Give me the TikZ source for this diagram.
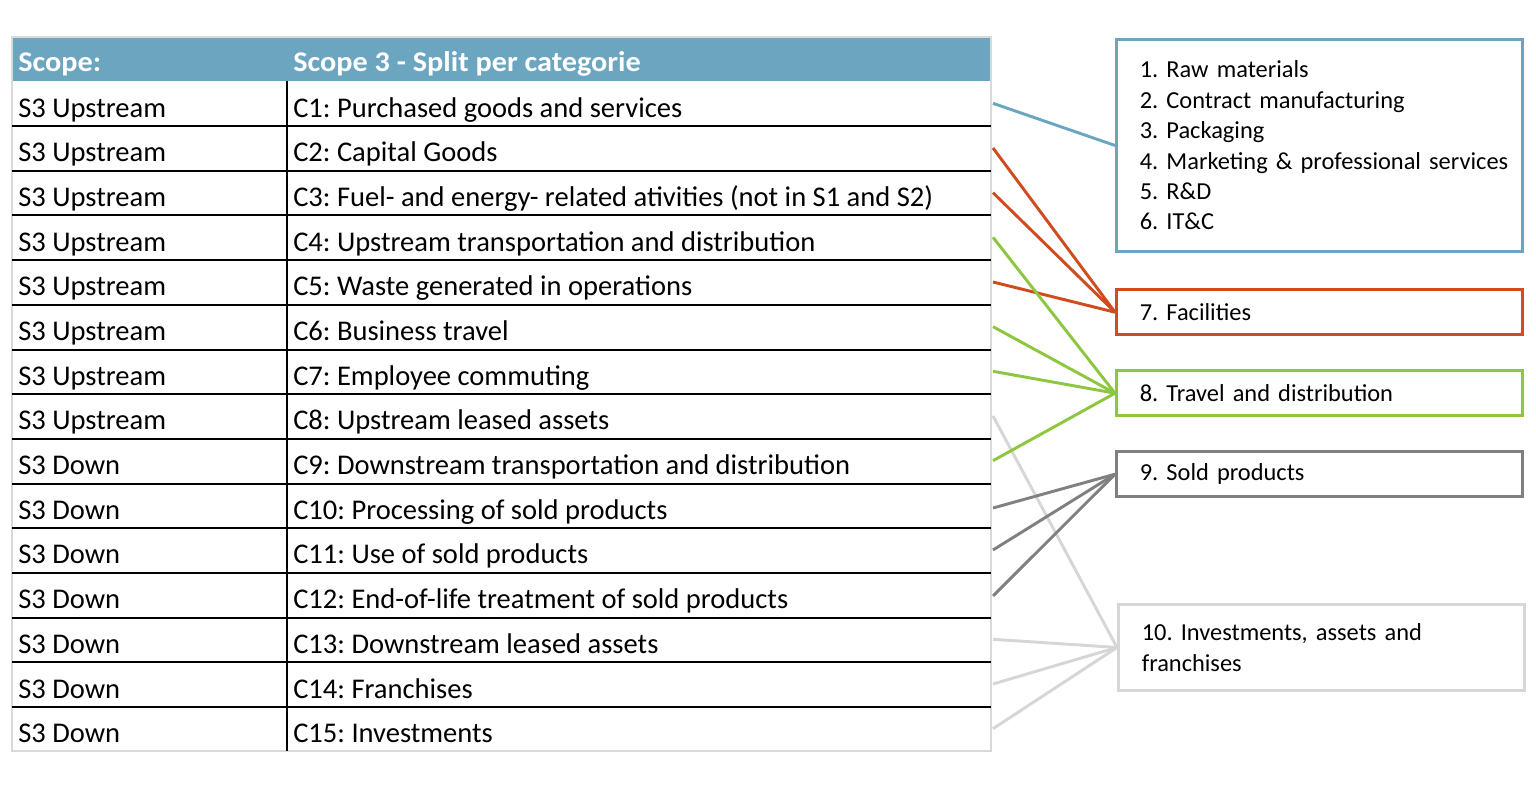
\documentclass[tikz,border=0pt]{standalone}
\usepackage{fontspec}
\setmainfont{Carlito}
\newfontfamily\headfont{Carlito}[FakeStretch=1.06]
\usepackage{xcolor}
\usepackage{tikz}
\frenchspacing
\hfuzz=30pt

\definecolor{scopeblue}{RGB}{107,165,192}
\definecolor{facorange}{RGB}{208,76,30}
\definecolor{travgreen}{RGB}{141,198,63}
\definecolor{soldgray}{RGB}{128,128,128}
\definecolor{invgray}{RGB}{214,214,214}
\definecolor{gridgray}{RGB}{217,217,217}

\tikzset{
  cell/.style={anchor=base west, inner sep=0pt, font=\fontsize{21.4}{25}\selectfont},
  headcell/.style={cell, text=white, font=\fontsize{21.4}{25}\selectfont\headfont\bfseries},
  catbox/.style={draw, line width=2.2pt, anchor=north west, inner xsep=17.5pt, inner ysep=0pt,
    minimum width=304.5pt, text width=269.5pt, align=left,
    font=\fontsize{18.3}{22.8}\selectfont},
  link/.style={line width=2.2pt},
  rowline/.style={line width=1.6pt, black}
}

\begin{document}
\begin{tikzpicture}[x=0.75pt,y=0.75pt,yscale=-1,xscale=1]

\useasboundingbox (0,0) rectangle (1536,787);

% table frame
\fill[scopeblue] (12,37) rectangle (991,81);
\draw[gridgray, line width=1.2pt] (12,37) -- (12,751) -- (991,751) -- (991,37) -- cycle;
\draw[rowline] (287,81) -- (287,751);
\draw[rowline] (12,126) -- (991,126);
\draw[rowline] (12,171) -- (991,171);
\draw[rowline] (12,215) -- (991,215);
\draw[rowline] (12,260) -- (991,260);
\draw[rowline] (12,305) -- (991,305);
\draw[rowline] (12,350) -- (991,350);
\draw[rowline] (12,394) -- (991,394);
\draw[rowline] (12,439) -- (991,439);
\draw[rowline] (12,484) -- (991,484);
\draw[rowline] (12,528) -- (991,528);
\draw[rowline] (12,573) -- (991,573);
\draw[rowline] (12,618) -- (991,618);
\draw[rowline] (12,662) -- (991,662);
\draw[rowline] (12,707) -- (991,707);

% header
\node[headcell] (hscope) at (18,72) {Scope:};
\node[headcell] (hcat) at (293,72) {Scope 3 - Split per categorie};

% scope column
\node[cell] (s1) at (18,117.3) {S3 Upstream};
\node[cell] (s2) at (18,162.0) {S3 Upstream};
\node[cell] (s3) at (18,206.7) {S3 Upstream};
\node[cell] (s4) at (18,251.3) {S3 Upstream};
\node[cell] (s5) at (18,296.0) {S3 Upstream};
\node[cell] (s6) at (18,340.7) {S3 Upstream};
\node[cell] (s7) at (18,385.3) {S3 Upstream};
\node[cell] (s8) at (18,430.0) {S3 Upstream};
\node[cell] (s9) at (18,474.7) {S3 Down};
\node[cell] (s10) at (18,519.3) {S3 Down};
\node[cell] (s11) at (18,564.0) {S3 Down};
\node[cell] (s12) at (18,608.7) {S3 Down};
\node[cell] (s13) at (18,653.3) {S3 Down};
\node[cell] (s14) at (18,698.0) {S3 Down};
\node[cell] (s15) at (18,742.7) {S3 Down};

% category column
\node[cell] (c1) at (293,117.3) {C1: Purchased goods and services};
\node[cell] (c2) at (293,162.0) {C2: Capital Goods};
\node[cell] (c3) at (293,206.7) {C3: Fuel- and energy- related ativities (not in S1 and S2)};
\node[cell] (c4) at (293,251.3) {C4: Upstream transportation and distribution};
\node[cell] (c5) at (293,296.0) {C5: Waste generated in operations};
\node[cell] (c6) at (293,340.7) {C6: Business travel};
\node[cell] (c7) at (293,385.3) {C7: Employee commuting};
\node[cell] (c8) at (293,430.0) {C8: Upstream leased assets};
\node[cell] (c9) at (293,474.7) {C9: Downstream transportation and distribution};
\node[cell] (c10) at (293,519.3) {C10: Processing of sold products};
\node[cell] (c11) at (293,564.0) {C11: Use of sold products};
\node[cell] (c12) at (293,608.7) {C12: End-of-life treatment of sold products};
\node[cell] (c13) at (293,653.3) {C13: Downstream leased assets};
\node[cell] (c14) at (293,698.0) {C14: Franchises};
\node[cell] (c15) at (293,742.7) {C15: Investments};

% row ends
\coordinate (r1) at (993,103.3);
\coordinate (r2) at (993,148.0);
\coordinate (r3) at (993,192.7);
\coordinate (r4) at (993,237.3);
\coordinate (r5) at (993,282.0);
\coordinate (r6) at (993,326.7);
\coordinate (r7) at (993,371.3);
\coordinate (r8) at (993,416.0);
\coordinate (r9) at (993,460.7);
\coordinate (r10) at (993,508.0);
\coordinate (r11) at (993,550.0);
\coordinate (r12) at (993,596.0);
\coordinate (r13) at (993,639.3);
\coordinate (r14) at (993,684.0);
\coordinate (r15) at (993,728.7);

% groups
\node[catbox, draw=scopeblue, minimum height=159pt] (goods) at (1115,38) {\mbox{1. Raw materials}\\\mbox{2. Contract manufacturing}\\\mbox{3. Packaging}\\\mbox{4. Marketing \& professional services}\\\mbox{5. R\&D}\\\mbox{6. IT\&C}};
\node[catbox, draw=facorange, minimum height=34.1pt] (facil) at (1115,288) {7. Facilities};
\node[catbox, draw=travgreen, minimum height=34.1pt] (travel) at (1115,369) {8. Travel and distribution};
\node[catbox, draw=soldgray, minimum height=34.1pt] (sold) at (1115,450) {9. Sold products};
\node[catbox, draw=invgray, minimum height=64.5pt] (invest) at (1117,603) {10. Investments, assets and\\franchises};

% links
\draw[link, invgray] (r8) -- (invest.west);
\draw[link, invgray] (r13) -- (invest.west);
\draw[link, invgray] (r14) -- (invest.west);
\draw[link, invgray] (r15) -- (invest.west);

\draw[link, scopeblue] (r1) -- (goods.west);

\draw[link, facorange] (r2) -- (facil.west);
\draw[link, facorange] (r3) -- (facil.west);
\draw[link, facorange] (r5) -- (facil.west);

\draw[link, travgreen] (r4) -- (travel.west);
\draw[link, travgreen] (r6) -- (travel.west);
\draw[link, travgreen] (r7) -- (travel.west);
\draw[link, travgreen] (r9) -- (travel.west);

\draw[link, soldgray] (r10) -- (sold.west);
\draw[link, soldgray] (r11) -- (sold.west);
\draw[link, soldgray] (r12) -- (sold.west);

\end{tikzpicture}
\end{document}
